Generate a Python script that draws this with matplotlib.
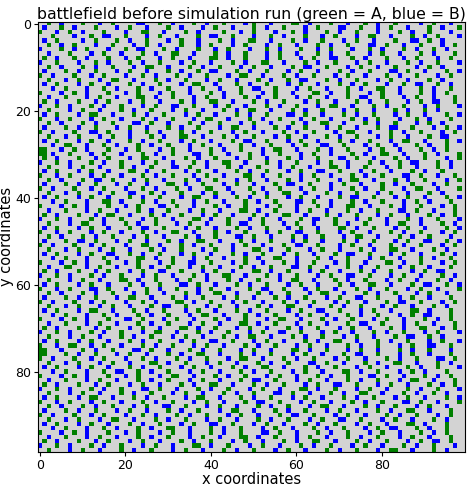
import numpy as np
import matplotlib.pyplot as plt
from matplotlib.colors import ListedColormap

# grid transcribed by eye: '.' empty, 'g' army A (green), 'b' army B (blue)
rows = [
"..g..b....g...b..g.....bb...g..b....g..b...g....b.g...b....gg..b....g...b...g..b...g.....b..g...b..",
".b...g..b....g....b..g...b....g..b....b..g...b....g..b...g....b..g....bb...g...b..g...b....g..b...g",
"g...b..g..b....g....b...gg...b....g..b.....g...b..g....b...g..b....g..b...g....b....g..b...g....b..",
"...g....b...g..bb...g....b..g...b....g..bb...g....b...g..b....g...b..g....b..gg...b....g..b..g....b",
".b..g.....b..g....g..b...g....b..g...b....g..b...gg...b....g..b...g....b..g...b....g...bb..g..b....",
"..g..b..g....b...g....b..g..b....g...b..g....b..g....b..g...b....g..b...g....bb..g...b...g....b..g.",
"b....g..b..g....b...g..bb....g..b....g...b..g....b...g..b....g...b..g....b...g..b....g..b...g..b...",
"..b....g....b..g...b....g..b...gg...b....g..b...g....b..g...b....g..b...g....b..g...b....g..b....g.",
".g..b...g..b....g...b..g....b..g...b....gg..b...g....b..g....b..g...bb...g..b....g...b..g....b..g..",
"b...g....b...g..b....g..b...g....b..g...b....g..b...gg...b....g..b...g....b..g...b....g..b...g....b",
"..g..b....g..b...g....b..gg...b....g..b...g....b..g...b....g..bb...g....b..g...b...g....b..g..b....",
".b....g..b...g....b..g...b....g..b...g..bb....g..b...g....b..g...b....g..b...g....bb..g...b....g..b",
"g..b....g...b..g....b...g..b....g..b...g....b..gg...b....g..b...g....b..g...b....g..b...g....b..g..",
"..g...b..g....b..gg...b....g..b...g....b..g...b....g..b...g..bb....g..b...g....b..g...b....g..b....",
".b..g....b..g...b....g..b...g....b..gg...b....g..b...g....b..g...b....g..b..g....b...g..bb...g..b..",
"...b..g....b...g..b....g..b...g....b..g...b....g..bb...g....b..g...b....g..b...gg...b....g..b...g..",
"g....b..g..b....g...b..g....b..g...b....g..b...g....b..g...b....gg..b...g....b..g...b....g..b..g...",
"..b...g....b..g...b....gg..b...g....b..g...b....g..b...g....b..g...b....g..bb...g....b..g...b....g.",
".g..b....g...b..g....b..g...b....g..b...gg...b....g..b...g....b..g...b....g..b...g....b..g..bb...g.",
"b...g..b....g..b...g....b..g...bb...g....b..g...b....g..b...g....b..gg...b....g..b...g....b..g....b",
"..g....b..g...b....g..b...g....b..g...b....g..b..gg...b....g..b...g....b..g...b....g..b...g..b.....",
".b..g....b..gg...b....g..b...g....b..g...b....g..b...g....bb..g...b....g..b...g....b..g...b....g..b",
"g...b..g....b..g...b....g..b...g....b..gg...b....g..b...g....b..g...b....g..b..g....b...g..b....g..",
"..g..b....g..b...g....bb..g...b....g..b...g....b..g...b....g..b...gg...b....g..b...g....b..g..b....",
".b....g..b...g....b..g...b....g..b...g....b..gg...b....g..b...g....b..g...b....g..bb...g....b..g..b",
"g..b....g...bb..g....b...g..b....g..b...g....b..g...b....g..b...g....b..gg...b....g..b...g....b..g.",
"..g...b..g....b..g...b....g..b...gg...b....g..b...g....b..g...b....g..b...g....b..g...b....g..bb...",
".b..g....b..g...b....g..b...g....b..g...b....g..bb...g....b..g...b....g..b...g....b..gg...b....g..b",
"...b..gg...b...g..b....g..b...g....b..g...b....g..b...g....b..g...bb...g....b..g...b....g..b...g...",
"gg...b..g..b....g...b..g....b..g...b....g..b...g....b..gg...b....g..b...g....b..g...b....g..b..g...",
"gg.b...g....b..g...b....g..b...g....bb..g...b....g..b...g....b..g...b....g..b...gg...b....g..b....g",
".g..b....g...b..g....b..gg...b....g..b...g....b..g...b....g..b...g....bb..g...b....g..b...g....b..g",
"b...g..b....g..b...g....b..g...b....g..b...gg...b....g..b...g....b..g...b....g..b...g..bb....g..b..",
"..g....b..g...b....g..b...g....bb..g...b....g..b...g....b..g...b....gg..b...g....b..g...b....g..b..",
".b..g....b..g...b....gg..b...g....b..g...b....g..b...g....b..g...bb...g....b..g...b....g..b...g....",
"g...b..g....b..g...b....g..b...g....b..g...b....gg..b...g....b..g...b....g..b...g....bb..g...b...g.",
"..g..b....g..bb..g....b..g...b....g..b...g....b..g...b....g..b...g....b..gg...b....g..b...g....b..g",
".b....g..b...g....b..g...b....gg..b...g....b..g...b....g..bb...g....b..g...b....g..b...g....b..g...",
"g..b....g...b..g....b...g..b....g..b...gg...b....g..b...g....b..g...b....g..b...g....b..gg...b....g",
"..g...b..g....b..g...bb...g..b...g....b..g...b....g..b...gg...b....g..b...g....b..g...b....g..b....",
".b..g....b..g...b....g..b...g....b..gg...b....g..b...g....b..g...b....g..bb...g....b..g...b....g..b",
"...b..g....b...gg..b....g..b...g....b..g...b....g..b...g....bb..g...b....g..b...g....b..g..b....g..",
"g....b..g..b....g...b..g....bb..g...b....g..b...g....b..g...b....g..b...gg...b....g..b...g....b..g.",
"..b...g....b..g...b....g..b...g....b..g...b....gg..b...g....b..g...b....g..b...g....bb..g...b....g.",
".g..b....g...b..gg...b....g..b...g....b..g...b....g..b...gg...b....g..b...g....b..g...b....g..b..g.",
"b...g..b....g..b...g....b..g...b....gg..b...g....b..g...b....g..bb...g....b..g...b....g..b...g....b",
"..g....b..gg...b....g..b...g....b..g...b....g..bb...g....b..g...b....g..b...g....b..gg...b....g..b.",
".b..g....b..g...b....g..bb...g....b..g...b....g..b...g....b..g...b....gg..b...g....b..g...b....g..b",
"g...b..g....b..g...b....g..b...gg...b....g..b...g....b..g...bb...g....b..g...b....g..b...g....b..g.",
"..g..b....g..b...g....b..g...b....g..b...g....bb..g...b....g..b...g....b..gg...b....g..b...g....b..",
".b....g..bb..g....b..g...b....g..b...gg...b....g..b...g....b..g...b....g..b...g....b..g...bb...g..b",
"g..b....g...b..g....b...gg..b....g..b...g....b..g...b....g..bb...g....b..g...b....g..b...g....b..g.",
"..g...b..g....b..g...b....g..b...g....b..g...b....gg..b...g....b..g...b....g..b...gg...b....g..b...",
".b..g....b..g...bb...g..b...g....b..g...b....g..b...g....b..g...b....g..bb...g....b..g...b....g..b.",
"...b..g....b...g..b....gg..b...g....b..g...b....g..b...gg...b....g..b...g....b..g...b....g..b...g..",
"g....b..g..b....g...b..g....b..g...bb...g....b..g...b....g..b...g....b..g...b....gg..b...g....b..g.",
"..b...gg...b..g...b....g..b...g....b..g...b....g..b...g....bb..g...b....g..b...g....b..g...b....g..",
".g..b....g...b..g....b..g...bb...g....b..g...b....gg..b...g....b..g...b....g..b...g....b..g..bb....",
"b...g..b....g..b...g....b..g...b....g..b...gg...b....g..b...g....b..g...bb...g....b..g...b....g..b.",
"..g....b..g...b....gg..b...g....b..g...b....g..b...g....b..gg...b....g..b...g....b..g...b....g..b..",
".b..g....b..g...b....g..b...g....bb..g...b....g..b...g....b..g...b....g..b...gg...b....g..bb...g..b",
"g...b..g....bb..g...b....g..b...g....b..g...b....g..bb...g....b..g...b....g..b...g....b..g...b....g",
"..g..b....g..b...g....b..g...b....g..b...gg...b....g..b...g....b..gg...b....g..b...g....b..g...b...",
".b....g..b...g....b..gg...b....g..b...g....b..g...b....g..b...g....b..g...bb...g....b..g...b....g..",
"g..b....g...b..g....b...g..b....gg..b...g....b..g...b....g..b...g....b..g...b....g..bb...g....b..g.",
"..g...b..g....b..g...b....g..bb...g....b..g...b....g..b...gg...b....g..b...g....b..g...b....g..b...",
".b..g....b..gg...b....g..b...g....b..g...b....g..b...g....b..g...bb...g....b..g...b....gg..b....g..",
"...b..g....b...g..b....g..b...g....b..gg...b....g..b...g....b..g...b....g..b...g....b..g..bb....g..",
"g....b..g..b....g...bb..g....b..g...b....g..b...g....b..gg...b....g..b...g....b..g...b....g..b..g..",
"..b...g....b..g...b....g..b...g....b..g...b....gg..b...g....b..g...b....g..bb...g....b..g...b....g.",
".g..b....g...b..g....b..g...b....gg..b...g....b..g...b....g..b...g....b..g...b....g..b...gg...b..g.",
"b...g..b....g..b...g....b..gg...b....g..b...g....b..g...bb...g....b..g...b....g..b...g....b..g....b",
"..g....b..g...b....g..b...g....b..g...b....g..b..gg...b....g..b...g....b..g...b....g..bb...g..b....",
".b..g....b..g...b....g..b...g....b..g...bb...g....b..g...b....g..b...gg...b....g..b...g....b..g...b",
"g...b..gg...b..g...b....g..b...g....b..g...b....g..b...g....b..g...b....g..b...g....b..g...bb...g..",
"gg...b....g..b...g....bb..g...b....g..b...g....b..g...b....gg..b...g....b..g...b....g..b...g....b..",
"gg....g..b...g....b..g...b....g..b...gg...b....g..b...g....b..g...b....g..bb...g....b..g...b....g..",
"g..b....g...b..g....b...g..b....g..b...g....b..gg...b....g..b...g....b..g...b....g..b...g....bb..g.",
"..g...b..g....b..g...b....gg..b...g....b..g...b....g..b...g....bb..g...b....g..b...gg...b....g..b..",
".b..g....b..g...b....g..b...g....b..g...b....g..b...gg...b....g..b...g....b..g...b....g..b...g....b",
"...b..g....b...g..bb...g..b...g....b..g...b....g..b...g....b..g...b....gg..b...g....b..g..b....g...",
"g....b..g..b....g...b..g....b..gg...b....g..b...g....b..g...b....g..b...g....bb..g...b....g..b..g..",
"..b...g....b..g...b....g..b...g....b..g...b....g..bb...g....b..g...b....g..b...g....b..gg...b....g.",
".g..b....g...b..g....b..g...b....g..b...gg...b....g..b...g....b..g...bb...g....b..g...b....g..b..g.",
"b...g..b....g..b...g....bb..g...b....g..b...g....b..g...b....gg..b...g....b..g...b....g..b...g....b",
"..g....b..g...b....g..b...g....b..g...b....g..b...g....bb..g...b....g..b...gg...b....g..b...g..b...",
".b..g....b..gg...b....g..b...g....b..gg...b....g..b...g....b..g...b....g..b...g....b..g...b....g..b",
"g...b..g....b..g...b....g..b...g....b..g...b....g..bb...g....b..g...b....g..b...g....bb..g...b....g",
"..g..b....g..b...g....b..g...bb...g....b..g...b....g..b...g....b..gg...b....g..b...g....b..g...b...",
".b....g..b...g....b..g...b....g..b...g....b..gg...b....g..b...g....b..g...b....g..b...gg...b....g..",
"g..b....g...b..g....b...g..b....g..b...g....b..g...b....g..bb...g....b..g...b....g..b...g....b..g.",
"..g...b..g....b..gg...b....g..b...g....b..g...b....g..b...g....b..g...bb...g....b..g...b....g..b...",
".b..g....b..g...b....g..b...g....b..g...bb...g....b..g...b....g..b...g....b..g...b....gg..b....g..",
"...b..g....b...g..b....g..b...gg...b....g..b...g....b..g...b....g..b...g....b..g..bb....g..b...g..",
"g....b..g..b....g...b..g....b..g...b....g..b...g....bb..g...b....g..b...g....b..g...b....g..b..g..",
"..b...g....b..g...b....g..b...g....b..g...b....gg..b...g....b..g...b....g..b...g....b..g...b....g.",
".g..b....g...b..g....b..g...b....g..b...g....b..g...b....g..b...gg...b....g..b...g....b..g..bb..g.",
"b...g..b....g..b...g....b..g...b....gg..b...g....b..g...b....g..b...g....b..g...b....g..b...g....b",
"..g....b..g...b....g..b...g....b..g...b....g..b...g....b..g...b....g..b...g....b..gg...b....g..b..",
]

code = {".": 0, "g": 1, "b": 2}
grid = np.array([[code.get(c, 0) for c in r.ljust(100, ".")[:100]] for r in rows[:100]])

cmap = ListedColormap(["lightgray", "green", "blue"])

fig = plt.figure(figsize=(4.74, 4.86), dpi=100)
ax = fig.add_axes([0.080, 0.070, 0.901, 0.885])
ax.imshow(grid, cmap=cmap, vmin=0, vmax=2, aspect="auto", interpolation="nearest")
ax.set_xticks([0, 20, 40, 60, 80])
ax.set_yticks([0, 20, 40, 60, 80])
ax.tick_params(labelsize=9, pad=2, length=3)
ax.set_title("battlefield before simulation run (green = A, blue = B)", fontsize=11.3, pad=2)
ax.set_xlabel("x coordinates", fontsize=10.5, labelpad=0)
ax.set_ylabel("y coordinates", fontsize=10.5, labelpad=1)
fig.savefig("out.png", dpi=100)
